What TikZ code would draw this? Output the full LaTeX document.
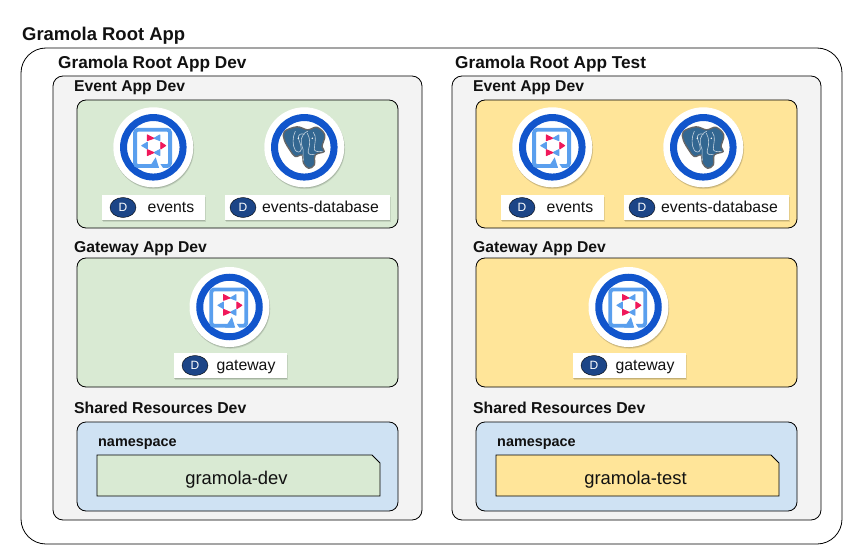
\documentclass[tikz,border=0pt]{standalone}
\usepackage{fontspec}
\setmainfont{Liberation Sans}
\usetikzlibrary{shadows,shapes.geometric}
\definecolor{panelgray}{HTML}{F3F3F3}
\definecolor{appgreen}{HTML}{D9EAD3}
\definecolor{appyellow}{HTML}{FFE599}
\definecolor{appblue}{HTML}{CFE2F3}
\definecolor{ringblue}{HTML}{1155CC}
\definecolor{framblue}{HTML}{5A9FEE}
\definecolor{qred}{HTML}{F0185A}
\definecolor{depblue}{HTML}{1C4587}
\definecolor{pgblue}{HTML}{336791}
\definecolor{ink}{HTML}{111111}
\newcommand{\fsz}[1]{\fontsize{#1pt}{#1pt}\selectfont}
\tikzset{
  x=1pt,y=-1pt,
  softshadow/.style={
    drop shadow={shadow xshift=0.8pt,shadow yshift=-1.8pt,opacity=.10,fill=black},
    drop shadow={shadow xshift=0.4pt,shadow yshift=-0.9pt,opacity=.14,fill=black}},
  boxline/.style={draw=black,line width=0.8pt,outer sep=0pt},
  heading/.style={anchor=base west,inner sep=0pt,text=ink,font=\bfseries\fsz{#1}},
  plain/.style={anchor=base,inner sep=0pt,text=ink,font=\fsz{#1}},
  badge/.style={fill=white,inner sep=0pt,softshadow,minimum height=25.5pt,rectangle},
  depoval/.style={ellipse,fill=depblue,draw=black,line width=0.4pt,minimum width=26pt,minimum height=20pt,inner sep=0pt,text=white,font=\fsz{12}},
  whitedisc/.style={circle,fill=white,minimum size=80pt,inner sep=0pt,softshadow},
  ringdisc/.style={circle,draw=ringblue,line width=7pt,minimum size=59.5pt,inner sep=0pt},
  qtri/.style={fill=#1,draw=#1,line width=0.9pt,line join=round},
  quarkus/.pic={
    \draw[framblue,line width=3.8pt,rounded corners=3pt,fill=white] (-18.2,-17.6) rectangle (16.8,18.8);
    \fill[white] (2.4,10) -- (10.5,22) -- (5.2,22) -- cycle;
    \fill[framblue] (2.4,10) -- (5.7,20.5) -- (-4.3,20.5) -- cycle;
    \path[qtri=qred] (-6,-12.4) -- (0.7,-9) -- (-6,-6.7) -- cycle;
    \path[qtri=framblue] (6.5,-12.4) -- (0.7,-9) -- (6.5,-6.7) -- cycle;
    \path[qtri=qred] (7.4,-5) -- (12.4,-1.7) -- (7.4,1.7) -- cycle;
    \path[qtri=framblue] (6.5,2.3) -- (0.7,5.3) -- (6.5,8.3) -- cycle;
    \path[qtri=qred] (-6,2.3) -- (0.7,5.3) -- (-6,8.3) -- cycle;
    \path[qtri=framblue] (-6,-5) -- (-11.6,-1.7) -- (-6,1.7) -- cycle;
  },
  postgres/.pic={
    \draw[draw=black!60,line width=1.3pt,fill=pgblue,line join=round]
      plot[smooth cycle,tension=0.6] coordinates {(-20,-15.7) (-7.3,-20.5) (3.3,-17.5) (12.7,-20) (20.5,-12.3) (17.7,-0.7) (20,4.3) (11,7.7) (10,17.7) (4.3,21) (-0.7,16) (-2.3,7.7) (-9,9.3) (-14.5,2.7) (-20,-7.3)};
    \draw[white!70!pgblue,line width=0.6pt,line cap=round]
      (3.3,-16) .. controls (-4,-13) and (-4,-5) .. (-2,0) .. controls (0,3) and (-2,6) .. (-1,13);
    \draw[white!70!pgblue,line width=0.6pt,line cap=round]
      (-9,-16) .. controls (-12,-10) and (-12,-2) .. (-9,3) .. controls (-7,5) and (-4,6) .. (-3,2) .. controls (-3,-3) and (-6,-7) .. (-6,-11) .. controls (-6,-13) and (-3,-14) .. (0,-13);
    \draw[white!70!pgblue,line width=0.6pt,line cap=round]
      (9,-15) .. controls (13,-10) and (10,-4) .. (10,2) .. controls (10,4) and (14,5) .. (18,4);
    \draw[white!70!pgblue,line width=0.6pt,line cap=round]
      (3,-14) .. controls (6,-9) and (6,-3) .. (4,3) .. controls (3,7) and (6,8) .. (10,7);
    \fill[white] (-6,-9) circle (0.8) (8,-9) circle (0.8);
  }
}
% #1 prefix, #2 x of badge left, #3 x right, #4 y top, #5 oval x, #6 text x, #7 text
\newcommand{\depbadge}[7]{%
  \node[badge,minimum width={(#3-#2)*1pt}] (#1b) at ({(#2+#3)/2},{#4+12.7}) {};
  \node[depoval] (#1o) at (#5,{#4+12.5}) {D};
  \node[plain=15.8] (#1t) at (#6,{#4+17.3}) {#7};
}
% #1 prefix, #2 x offset, #3 colour, #4 namespace text
\newcommand{\envpanel}[4]{%
\begin{scope}[shift={(#2,0)}]
  \node[boxline,rectangle,rounded corners=10pt,fill=panelgray,minimum width=369pt,minimum height=444pt,anchor=north west,inner sep=0pt] (#1panel) at (53,76) {};
  \node[boxline,rectangle,rounded corners=9pt,fill=#3,minimum width=321pt,minimum height=128pt,anchor=north west,inner sep=0pt] (#1event) at (77,100) {};
  \node[boxline,rectangle,rounded corners=9pt,fill=#3,minimum width=321pt,minimum height=129pt,anchor=north west,inner sep=0pt] (#1gate) at (77,258) {};
  \node[boxline,rectangle,rounded corners=9pt,fill=appblue,minimum width=321pt,minimum height=89pt,anchor=north west,inner sep=0pt] (#1shared) at (77,422) {};
  \node[heading=15.7] (#1lev) at (74,91.5) {Event App Dev};
  \node[heading=15.7] (#1lgw) at (74,252) {Gateway App Dev};
  \node[heading=15.8] (#1lsh) at (74,413) {Shared Resources Dev};
  \node[whitedisc] (#1d1) at (153.3,147.3) {};
  \node[ringdisc] (#1r1) at (153.3,147.3) {};
  \pic at (153.3,147.3) {quarkus};
  \node[whitedisc] (#1d2) at (304.3,147.3) {};
  \node[ringdisc] (#1r2) at (304.3,147.3) {};
  \pic at (304.3,147.3) {postgres};
  \node[whitedisc] (#1d3) at (229.5,307) {};
  \node[ringdisc] (#1r3) at (229.5,307) {};
  \pic at (229.5,307) {quarkus};
  \depbadge{#1a}{102}{205}{195}{123}{171}{events}
  \depbadge{#1c}{225}{390}{195}{243}{320.5}{events-database}
  \depbadge{#1g}{174}{287}{353}{195}{246}{gateway}
  \node[heading=14.4] (#1lns) at (98,446.5) {namespace};
  \draw[boxline,line width=0.9pt,fill=#3,line join=miter] (97,455) -- (372,455) -- (380,463) -- (380,496) -- (97,496) -- cycle;
  \node[plain=18.4] (#1nst) at (236.5,484) {#4};
\end{scope}}
\begin{document}
\begin{tikzpicture}
\useasboundingbox (0,0) rectangle (860,559);
\node[boxline,rectangle,rounded corners=25pt,fill=white,minimum width=821pt,minimum height=496pt,anchor=north west,inner sep=0pt] (root) at (21,48) {};
\node[heading=18.45] (roottitle) at (22,41) {Gramola Root App};
\envpanel{dev}{0}{appgreen}{gramola-dev}
\envpanel{tst}{399}{appyellow}{gramola-test}
\node[heading=17.2] (devtitle) at (58,68.5) {Gramola Root App Dev};
\node[heading=17.2] (tsttitle) at (455,68.5) {Gramola Root App Test};
\end{tikzpicture}
\end{document}
